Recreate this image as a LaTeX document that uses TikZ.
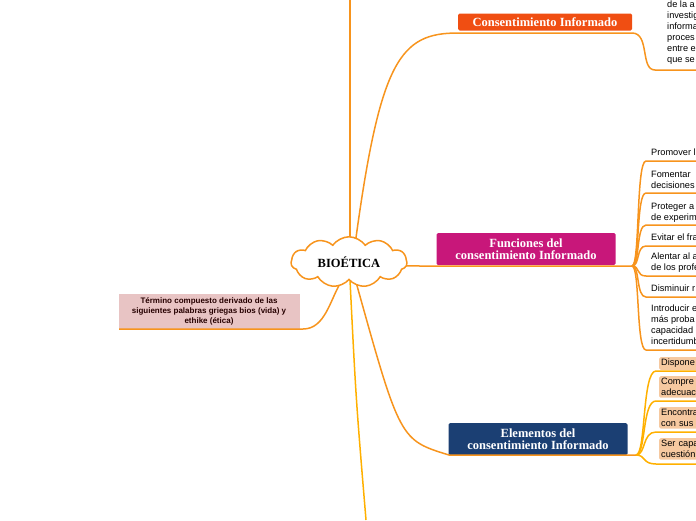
\documentclass[tikz,border=0pt]{standalone}
\usepackage{fontspec}
\setmainfont{Liberation Serif}
\newfontfamily\sansf{Liberation Sans}
\usetikzlibrary{shapes.symbols}
\definecolor{lo}{HTML}{F7941D}
\definecolor{ly}{HTML}{FFB000}
\definecolor{hred}{HTML}{F04E12}
\definecolor{hmag}{HTML}{C8177A}
\definecolor{hblue}{HTML}{1B3F73}
\definecolor{peach}{HTML}{F6C9A0}
\definecolor{pinkb}{HTML}{E8C4C4}
\tikzset{
 hdr/.style={text=white,font=\bfseries\fontsize{12.5}{12.5}\selectfont,align=center,rounded corners=1.5pt,inner sep=2.5pt},
 it/.style={anchor=north west,font=\sansf\fontsize{9.2}{11}\selectfont,align=left,inner sep=1pt},
 ol/.style={draw=lo,line width=1.5pt},
 yl/.style={draw=ly,line width=1.5pt},
}
\begin{document}
\begin{tikzpicture}[x=1pt,y=-1pt]
\useasboundingbox (0,0) rectangle (696,520);
\begin{scope}
\clip (0,0) rectangle (696,520);
\coordinate (cc) at (349,262);
\coordinate (top) at (350,0);
\coordinate (bot) at (366,520);
\draw[ol] (350,245) -- (top);
\draw[yl] (350,280) .. controls (356,400) .. (bot);
% header 1
\node[hdr,fill=hred,minimum width=174,minimum height=17] (h1) at (545,22) {Consentimiento Informado};
\coordinate (h1l) at (458,33); \coordinate (h1r) at (632,33);
\draw[ol] (355,245) .. controls (380,60) and (400,33) .. (h1l) -- (h1r);
\coordinate (t1) at (655,70);
\draw[ol] (h1r) .. controls (650,33) and (640,70) .. (t1) -- (696,70);
\node[it] (tx) at (666,0) {de la a\\investig\\informa\\proces\\entre e\\que se};
% header 2
\node[hdr,fill=hmag,minimum width=179,minimum height=32] (h2) at (526,249) {Funciones del\\consentimiento Informado};
\coordinate (h2l) at (437,266); \coordinate (h2r) at (632,266);
\draw[ol] (358,264) .. controls (390,266) .. (h2l) -- (h2r);
\foreach \y/\t in {148/{Promover l},170/{Fomentar\\decisiones},202/{Proteger a\\de experim},233/{Evitar el fra},252/{Alentar al a\\de los profe},284/{Disminuir r},304/{Introducir e\\más proba\\capacidad\\incertidumb}}{
 \node[it] (f\y) at (650,\y) {\t};}
\foreach \u in {161,193,225,246,276,297,350}{
 \coordinate (fu\u) at (646,\u);
 \draw[ol] (h2r) .. controls (640,266) and (636,\u) .. (fu\u) -- (696,\u);}
% header 3
\node[hdr,fill=hblue,minimum width=179,minimum height=32] (h3) at (538,439) {Elementos del\\consentimiento Informado};
\coordinate (h3l) at (449,455); \coordinate (h3r) at (636,455);
\draw[ol] (356,282) .. controls (400,440) .. (h3l) -- (h3r);
\foreach \y/\t in {357/{Dispone},376/{Compre\\adecuac},407/{Encontra\\con sus},438/{Ser capa\\cuestión}}{
 \node[it,fill=peach,rounded corners=1.5pt,inner sep=2pt,text width=50] (e\y) at (659,\y) {\t};}
\foreach \u in {371,401,432,464}{
 \coordinate (eu\u) at (656,\u);
 \draw[yl] (h3r) .. controls (646,455) and (642,\u) .. (eu\u) -- (696,\u);}
% left
\node[fill=pinkb,font=\sansf\bfseries\fontsize{8}{10}\selectfont,text=black!85!red,align=center,minimum width=181,minimum height=35,inner sep=1pt] (l) at (209,311) {Término compuesto derivado de las\\siguientes palabras griegas bios (vida) y\\ethike (ética)};
\coordinate (ll) at (119,329); \coordinate (lr) at (303,329);
\draw[ol] (ll) -- (lr) .. controls (325,329) and (330,300) .. (341,282);
% central cloud on top
\node[cloud,cloud puffs=11,cloud puff arc=110,aspect=2.6,draw=lo,line width=1.5pt,fill=white,minimum width=116,minimum height=46,font=\bfseries\fontsize{12.5}{12.5}\selectfont] (c) at (cc) {BIOÉTICA};
\end{scope}
\end{tikzpicture}
\end{document}
